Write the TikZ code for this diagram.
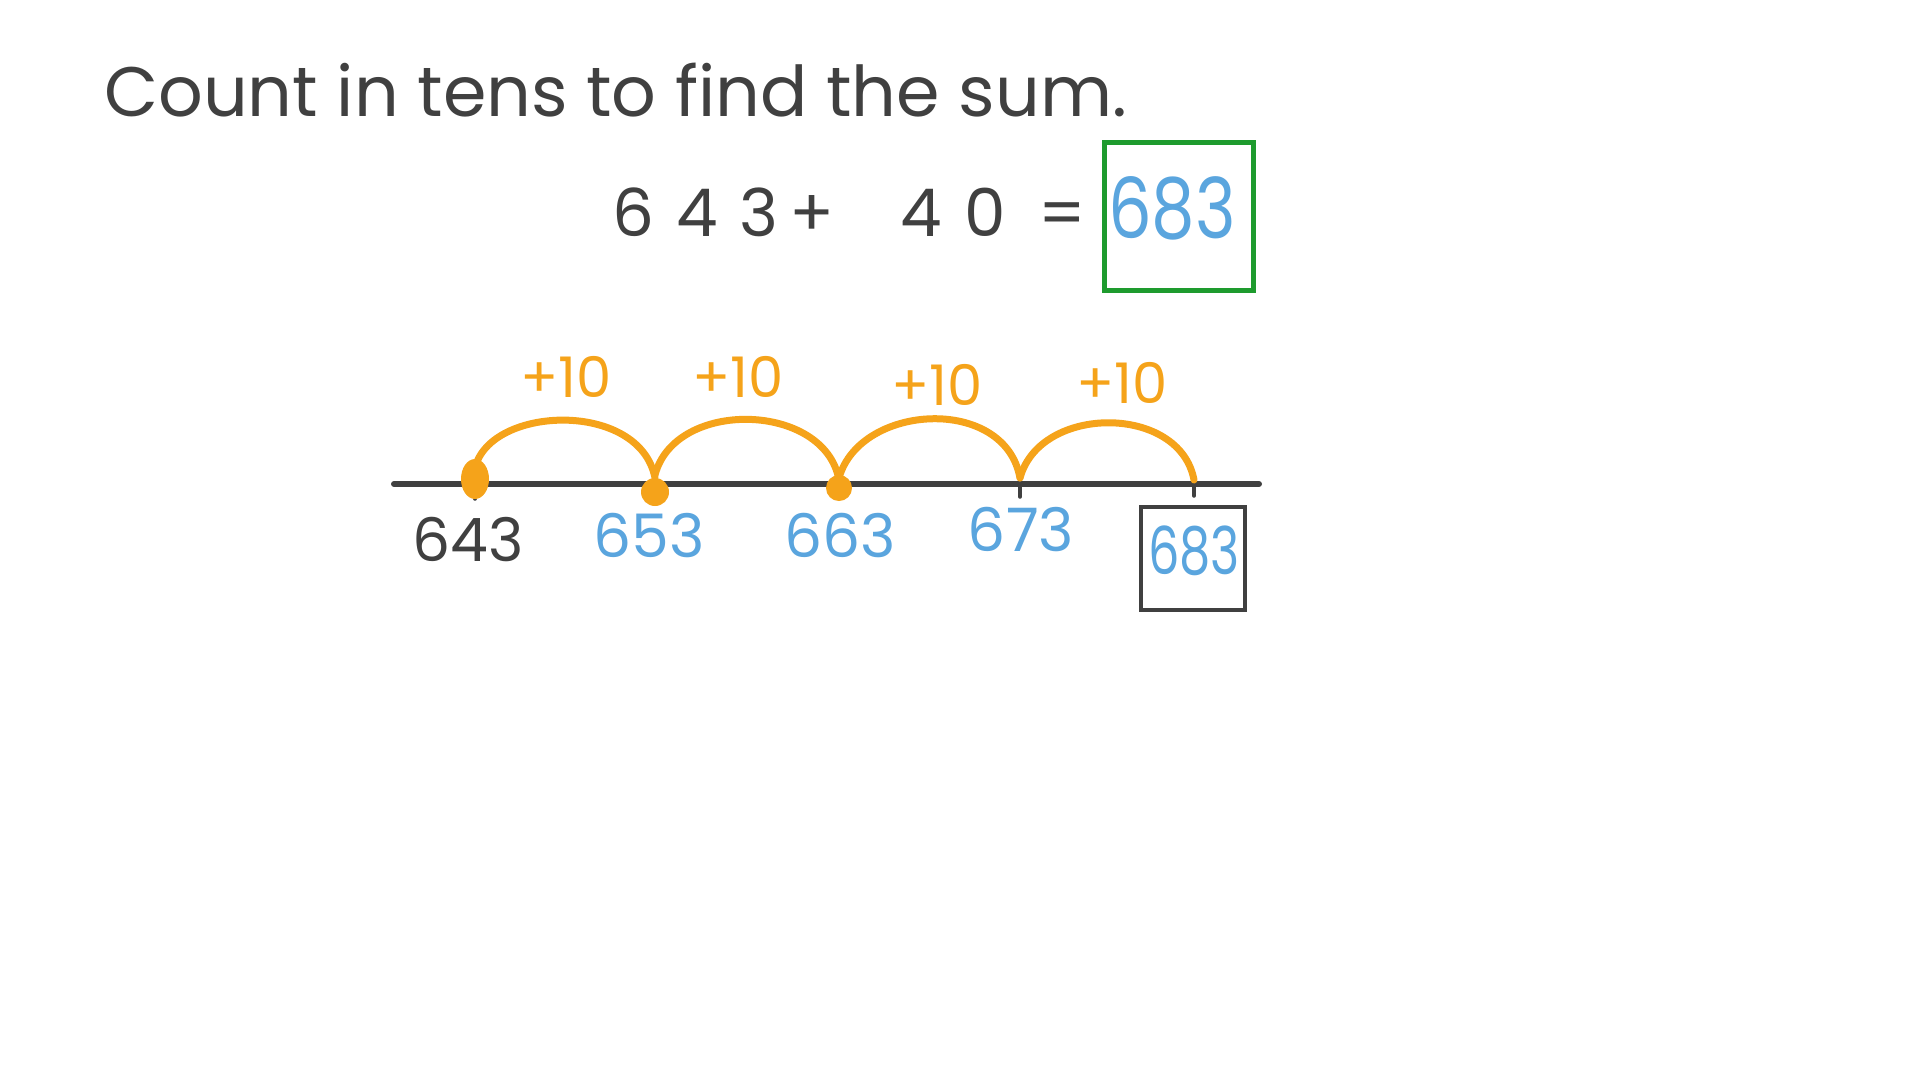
\documentclass[tikz,border=0pt]{standalone}
\usepackage{fontspec}
\setmainfont{Poppins}
\definecolor{ink}{HTML}{404040}
\definecolor{orng}{HTML}{F5A31A}
\definecolor{blu}{HTML}{5AA5DE}
\definecolor{grn}{HTML}{1E9B2E}
\tikzset{
  lbl/.style={inner sep=0pt, font=\fontsize{60}{60}\selectfont},
  jumplbl/.style={inner sep=0pt, text=orng, font=\fontsize{56}{56}\selectfont},
  jump/.style={draw=orng, line width=7pt, line cap=round},
  dotmark/.style={fill=orng, draw=none},
  tickmark/.style={draw=ink, line width=3.5pt, line cap=round},
}
\begin{document}
\begin{tikzpicture}[x=1pt,y=-1pt]
\useasboundingbox (0,0) rectangle (1920,1080);
% title
\node[inner sep=0pt, anchor=base west, text=ink, font=\fontsize{70}{70}\selectfont] (title) at (104,116) {Count in tens to find the sum.};
% equation
\node[inner sep=0pt, anchor=base west, text=ink, font=\fontsize{66}{66}\selectfont] (eq) at (612,236) {6\,\,4\,\,3\,+\quad 4\,\,0\,\,\,=};
\node[draw=grn, line width=5pt, minimum width=149pt, minimum height=148pt, inner sep=0pt] (ansbox) at (1178.5,216) {};
\node[inner sep=0pt, text=blu, font=\fontsize{84}{84}\selectfont, xscale=0.82] (ans) at (1172,208) {683};
% number line
\coordinate (lineL) at (394,484);
\coordinate (lineR) at (1259,484);
\draw[draw=ink, line width=6pt, line cap=round] (lineL) -- (lineR);
% points
\coordinate (p0) at (475,482);
\coordinate (p1) at (655,482);
\coordinate (p2) at (839,482);
\coordinate (p3) at (1020,482);
\coordinate (p4) at (1194,482);
% ticks (yshift in canvas points: negative is downward)
\draw[tickmark] ([yshift=4pt]p0) -- ([yshift=-17pt]p0);
\draw[tickmark] ([yshift=12pt]p1) -- ([yshift=-4pt]p1);
\draw[tickmark] ([yshift=8pt]p3) -- ([yshift=-15pt]p3);
\draw[tickmark] ([yshift=8pt]p4) -- ([yshift=-14pt]p4);
% jumps
\draw[jump] (475,468) .. controls (490,405) and (640,400) .. (655,478);
\draw[jump] (655,475) .. controls (675,398) and (825,402) .. (839,480);
\draw[jump] (839,478) .. controls (860,403) and (1005,395) .. (1020,478);
\draw[jump] (1020,478) .. controls (1040,404) and (1180,404) .. (1194,480);
% dots
\fill[dotmark] (475,479) ellipse [x radius=14pt, y radius=20pt];
\fill[dotmark] (655,492) circle [radius=14pt];
\fill[dotmark] (839,488) circle [radius=13pt];
% jump labels
\node[jumplbl] (j1) at (566,377) {+10};
\node[jumplbl] (j2) at (738,377) {+10};
\node[jumplbl] (j3) at (937,385) {+10};
\node[jumplbl] (j4) at (1122,383) {+10};
% number labels
\node[lbl, text=ink] (n0) at (468,539) {643};
\node[lbl, text=blu] (n1) at (649,535) {653};
\node[lbl, text=blu] (n2) at (840,535) {663};
\node[lbl, text=blu] (n3) at (1021,529) {673};
\node[draw=ink, line width=3.5pt, minimum width=104pt, minimum height=103pt, inner sep=0pt] (box4) at (1193,558.5) {};
\node[lbl, text=blu, xscale=0.75, font=\fontsize{66}{66}\selectfont] (n4) at (1194,551) {683};
\end{tikzpicture}
\end{document}
